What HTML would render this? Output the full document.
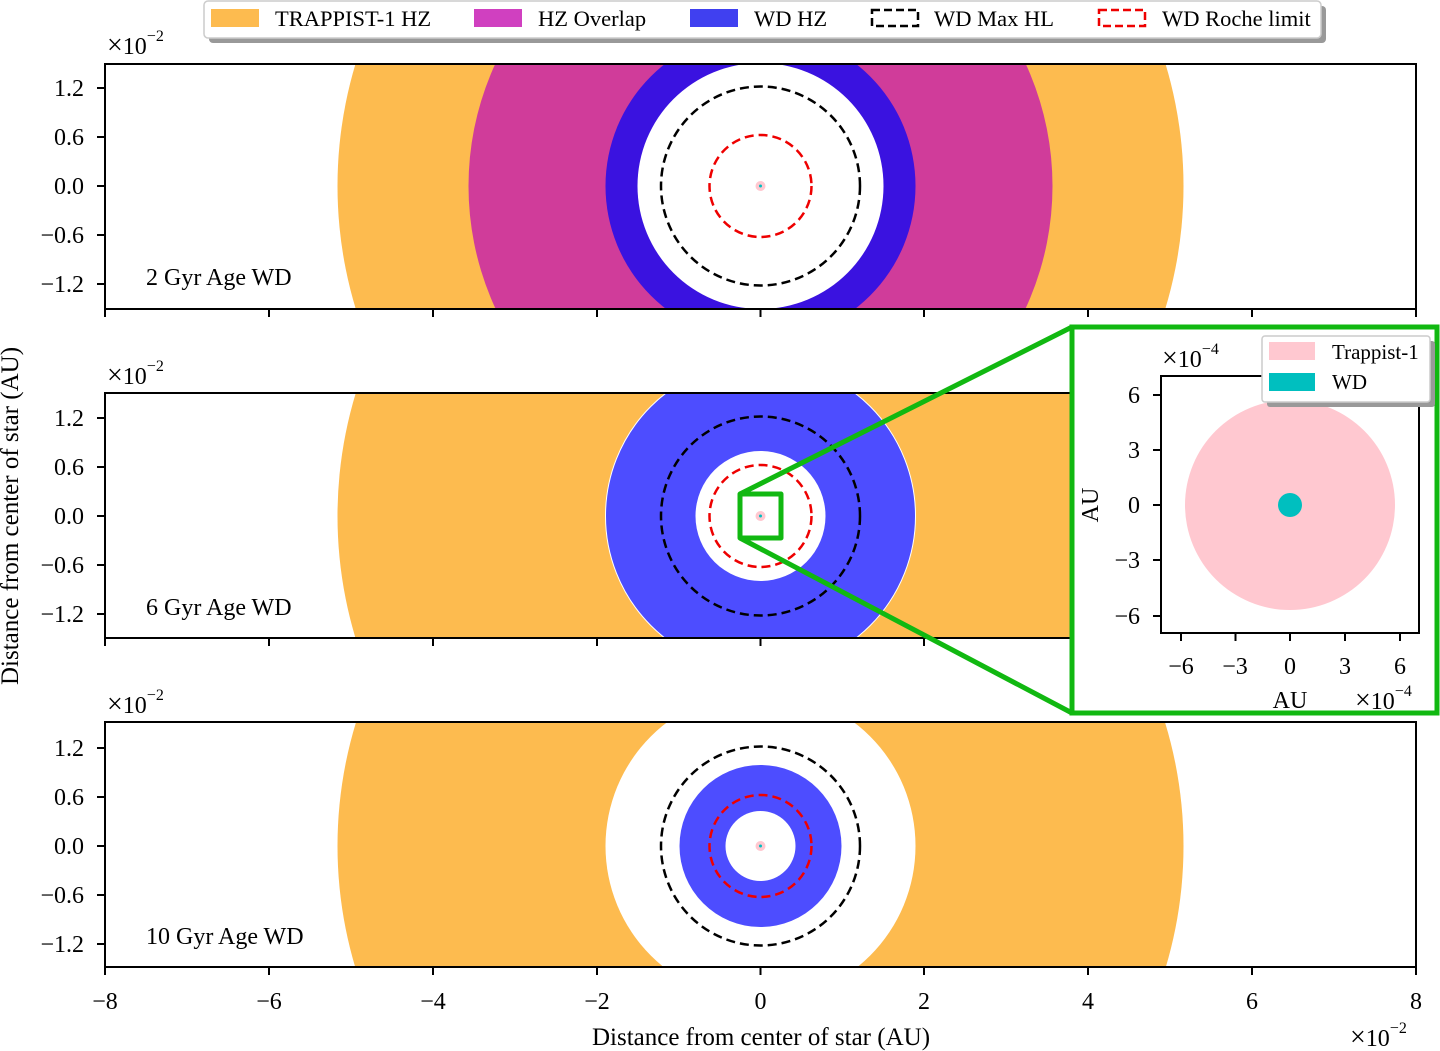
<!DOCTYPE html>
<html><head><meta charset="utf-8"><style>html,body{margin:0;background:#fff;overflow:hidden;width:1440px;height:1051px}svg{display:block}text{font-family:"Liberation Serif",serif;fill:#000}</style></head><body>
<svg width="1440" height="1051" viewBox="0 0 1440 1051" xmlns="http://www.w3.org/2000/svg">
<defs>
<clipPath id="c1"><rect x="105" y="64" width="1311" height="245"/></clipPath>
<clipPath id="c2"><rect x="105" y="393" width="1311" height="245"/></clipPath>
<clipPath id="c3"><rect x="105" y="722" width="1311" height="245"/></clipPath>
</defs>
<g clip-path="url(#c1)">
<circle cx="760.5" cy="186" r="423" fill="#fdbb4f"/>
<circle cx="760.5" cy="186" r="292" fill="#d03c9a"/>
<circle cx="760.5" cy="186" r="155" fill="#3a12e0"/>
<circle cx="760.5" cy="186" r="123" fill="#fff"/>
<circle cx="760.5" cy="186" r="99.5" fill="none" stroke="#000" stroke-width="2.5" stroke-dasharray="9,5"/>
<circle cx="760.5" cy="186" r="51" fill="none" stroke="#e00" stroke-width="2.5" stroke-dasharray="9,5"/>
<circle cx="760.5" cy="186" r="5" fill="#ffc8d0"/><circle cx="760.5" cy="186" r="1.5" fill="#00bfbf"/>
</g>
<rect x="105" y="64" width="1311" height="245" fill="none" stroke="#000" stroke-width="2"/>
<g clip-path="url(#c2)">
<circle cx="760.5" cy="516" r="423" fill="#fdbb4f"/>
<circle cx="760.5" cy="516" r="155" fill="#4d4dff" stroke="#fff" stroke-width="1"/>
<circle cx="760.5" cy="516" r="65" fill="#fff"/>
<circle cx="760.5" cy="516" r="99.5" fill="none" stroke="#000" stroke-width="2.5" stroke-dasharray="9,5"/>
<circle cx="760.5" cy="516" r="51" fill="none" stroke="#e00" stroke-width="2.5" stroke-dasharray="9,5"/>
<circle cx="760.5" cy="516" r="5" fill="#ffc8d0"/><circle cx="760.5" cy="516" r="1.5" fill="#00bfbf"/>
</g>
<rect x="105" y="393" width="1311" height="245" fill="none" stroke="#000" stroke-width="2"/>
<g clip-path="url(#c3)">
<circle cx="760.5" cy="846" r="423" fill="#fdbb4f"/>
<circle cx="760.5" cy="846" r="155" fill="#fff"/>
<circle cx="760.5" cy="846" r="81" fill="#4d4dff"/>
<circle cx="760.5" cy="846" r="35" fill="#fff"/>
<circle cx="760.5" cy="846" r="99.5" fill="none" stroke="#000" stroke-width="2.5" stroke-dasharray="9,5"/>
<circle cx="760.5" cy="846" r="51" fill="none" stroke="#e00" stroke-width="2.5" stroke-dasharray="9,5"/>
<circle cx="760.5" cy="846" r="5" fill="#ffc8d0"/><circle cx="760.5" cy="846" r="1.5" fill="#00bfbf"/>
</g>
<rect x="105" y="722" width="1311" height="245" fill="none" stroke="#000" stroke-width="2"/>
<g stroke="#000" stroke-width="2">
<path d="M105 309v8M269 309v8M433 309v8M597 309v8M760.5 309v8M924 309v8M1088 309v8M1252 309v8M1416 309v8"/>
<path d="M105 638v8M269 638v8M433 638v8M597 638v8M760.5 638v8M924 638v8M1088 638v8M1252 638v8M1416 638v8"/>
<path d="M105 967v8M269 967v8M433 967v8M597 967v8M760.5 967v8M924 967v8M1088 967v8M1252 967v8M1416 967v8"/>
<path d="M97 88h8M97 137h8M97 186h8M97 235h8M97 284h8"/>
<path d="M97 418h8M97 467h8M97 516h8M97 565h8M97 614h8"/>
<path d="M97 748h8M97 797h8M97 846h8M97 895h8M97 944h8"/>
</g>
<g font-size="24" text-anchor="end">
<text x="84" y="96">1.2</text><text x="84" y="145">0.6</text><text x="84" y="194">0.0</text><text x="84" y="243">−0.6</text><text x="84" y="292">−1.2</text>
<text x="84" y="426">1.2</text><text x="84" y="475">0.6</text><text x="84" y="524">0.0</text><text x="84" y="573">−0.6</text><text x="84" y="622">−1.2</text>
<text x="84" y="756">1.2</text><text x="84" y="805">0.6</text><text x="84" y="854">0.0</text><text x="84" y="903">−0.6</text><text x="84" y="952">−1.2</text>
</g>
<g font-size="24" text-anchor="middle">
<text x="105" y="1009">−8</text><text x="269" y="1009">−6</text><text x="433" y="1009">−4</text><text x="597" y="1009">−2</text><text x="760.5" y="1009">0</text><text x="924" y="1009">2</text><text x="1088" y="1009">4</text><text x="1252" y="1009">6</text><text x="1416" y="1009">8</text>
<text x="761" y="1045" font-size="25">Distance from center of star (AU)</text>
</g>
<g font-size="24">
<text x="107" y="54"><tspan font-size="28">×</tspan>10<tspan font-size="16" dy="-13">−2</tspan></text>
<text x="107" y="384"><tspan font-size="28">×</tspan>10<tspan font-size="16" dy="-13">−2</tspan></text>
<text x="107" y="713"><tspan font-size="28">×</tspan>10<tspan font-size="16" dy="-13">−2</tspan></text>
<text x="1350" y="1046"><tspan font-size="28">×</tspan>10<tspan font-size="16" dy="-13">−2</tspan></text>
<text x="146" y="285">2 Gyr Age WD</text>
<text x="146" y="615">6 Gyr Age WD</text>
<text x="146" y="944">10 Gyr Age WD</text>
<text transform="translate(18,516) rotate(-90)" text-anchor="middle" font-size="25">Distance from center of star (AU)</text>
</g>
<rect x="209" y="6" width="1117" height="37" rx="4" fill="#999"/>
<rect x="204" y="1" width="1117" height="37" rx="4" fill="#fff" stroke="#ccc" stroke-width="1.5"/>
<rect x="211" y="9" width="48" height="18" fill="#fdbb4f"/>
<text x="275" y="26" font-size="22.5">TRAPPIST-1 HZ</text>
<rect x="474" y="9" width="48" height="18" fill="#d040c0"/>
<text x="538" y="26" font-size="22.5">HZ Overlap</text>
<rect x="690" y="9" width="48" height="18" fill="#4040f0"/>
<text x="754" y="26" font-size="22.5">WD HZ</text>
<rect x="872" y="10" width="46" height="16" fill="none" stroke="#000" stroke-width="2.5" stroke-dasharray="8,4"/>
<text x="934" y="26" font-size="22.5">WD Max HL</text>
<rect x="1099" y="10" width="46" height="16" fill="none" stroke="#e00" stroke-width="2.5" stroke-dasharray="8,4"/>
<text x="1162" y="26" font-size="22.5">WD Roche limit</text>
<g stroke="#11b811" stroke-width="5" fill="none" stroke-linejoin="round">
<rect x="740" y="494" width="41" height="44"/>
<path d="M740 494L1072 327M740 538L1072 713"/>
</g>
<rect x="1072" y="327" width="365" height="386" fill="#fff" stroke="#11b811" stroke-width="5"/>
<circle cx="1290" cy="505" r="105" fill="#ffc8d0"/>
<circle cx="1290" cy="505" r="12" fill="#00bfbf"/>
<rect x="1161" y="376" width="258" height="257" fill="none" stroke="#000" stroke-width="2"/>
<g stroke="#000" stroke-width="2">
<path d="M1181 633v8M1235.5 633v8M1290 633v8M1345 633v8M1400 633v8"/>
<path d="M1153 395h8M1153 450h8M1153 505h8M1153 560h8M1153 616h8"/>
</g>
<g font-size="24" text-anchor="middle">
<text x="1181" y="674">−6</text><text x="1235" y="674">−3</text><text x="1290" y="674">0</text><text x="1345" y="674">3</text><text x="1400" y="674">6</text>
<text x="1290" y="708">AU</text>
<text transform="translate(1098,505) rotate(-90)">AU</text>
</g>
<g font-size="24" text-anchor="end">
<text x="1140" y="403">6</text><text x="1140" y="458">3</text><text x="1140" y="513">0</text><text x="1140" y="568">−3</text><text x="1140" y="624">−6</text>
</g>
<text x="1162" y="367" font-size="24"><tspan font-size="28">×</tspan>10<tspan font-size="16" dy="-13">−4</tspan></text>
<text x="1355" y="709" font-size="24"><tspan font-size="28">×</tspan>10<tspan font-size="16" dy="-13">−4</tspan></text>
<rect x="1267" y="341" width="168" height="66" rx="3" fill="#999"/>
<rect x="1262" y="336" width="168" height="66" rx="3" fill="#fff" stroke="#ccc" stroke-width="1.5"/>
<rect x="1269" y="342" width="46" height="18" fill="#ffc8d0"/>
<text x="1332" y="359" font-size="21">Trappist-1</text>
<rect x="1269" y="373" width="46" height="18" fill="#00bfbf"/>
<text x="1332" y="389" font-size="21">WD</text>
</svg>
</body></html>
